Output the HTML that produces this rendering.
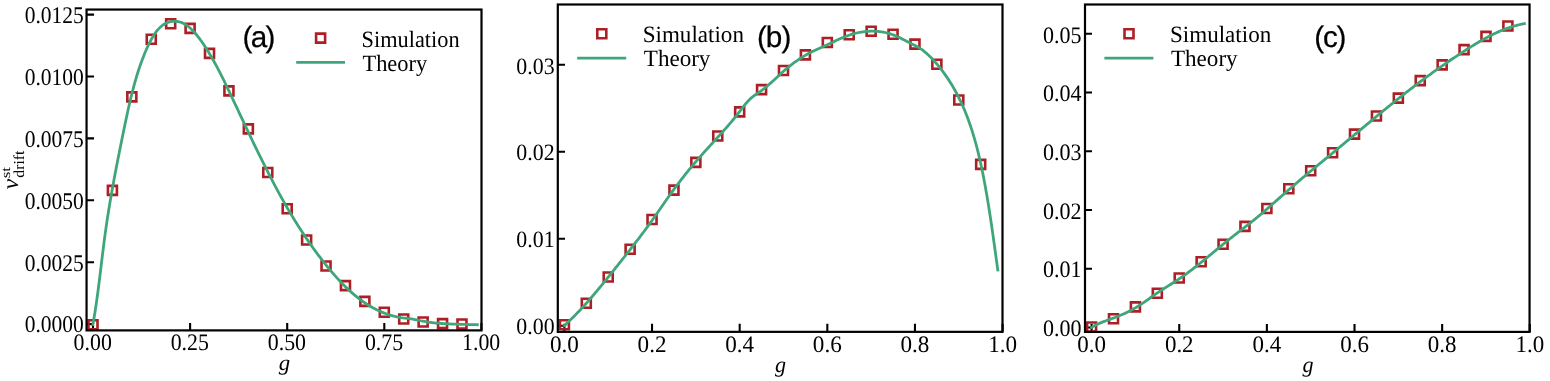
<!DOCTYPE html>
<html><head><meta charset="utf-8"><title>Drift velocity vs g</title>
<style>html,body{margin:0;padding:0;background:#fff;overflow:hidden}svg{display:block}text{text-rendering:geometricPrecision}</style>
</head><body>
<svg width="1550" height="381" viewBox="0 0 1550 381">
<rect width="1550" height="381" fill="#fff"/>
<clipPath id="clipa"><rect x="86.55" y="9.55" width="394.95" height="320.85"/></clipPath>
<path d="M93 330.4v-7.5M190.1 330.4v-7.5M287.2 330.4v-7.5M384.3 330.4v-7.5M481.4 330.4v-7.5M86.55 324.1h7.5M86.55 262.2h7.5M86.55 200.3h7.5M86.55 138.4h7.5M86.55 76.5h7.5M86.55 14.6h7.5" stroke="#000" stroke-width="2.1" fill="none"/>
<path d="M88.5 320.3h9v9h-9zM107.92 185.9h9v9h-9zM127.34 92.4h9v9h-9zM146.76 34.8h9v9h-9zM166.18 19.3h9v9h-9zM185.6 23.9h9v9h-9zM205.02 48.9h9v9h-9zM224.44 86.4h9v9h-9zM243.86 124.4h9v9h-9zM263.28 168h9v9h-9zM282.7 204.2h9v9h-9zM302.12 235.5h9v9h-9zM321.54 261.5h9v9h-9zM340.96 281.1h9v9h-9zM360.38 296.9h9v9h-9zM379.8 307.7h9v9h-9zM399.22 314.5h9v9h-9zM418.64 317.5h9v9h-9zM438.06 319.1h9v9h-9zM457.48 319.5h9v9h-9z" fill="none" stroke="#ac1f24" stroke-width="2.6" clip-path="url(#clipa)"/>
<polyline points="92.97,324.29 93.3,322.35 93.64,320.42 93.96,318.48 94.28,316.54 94.6,314.6 94.91,312.66 95.21,310.72 95.5,308.78 95.8,306.83 96.08,304.89 96.37,302.94 96.64,300.99 96.92,299.05 97.19,297.1 97.45,295.15 97.71,293.2 97.97,291.25 98.23,289.29 98.48,287.34 98.73,285.39 98.98,283.44 99.22,281.48 99.47,279.53 99.71,277.57 99.95,275.62 100.19,273.66 100.43,271.71 100.66,269.75 100.9,267.8 101.14,265.84 101.37,263.88 101.61,261.93 101.85,259.97 102.08,258.02 102.32,256.06 102.56,254.11 102.8,252.15 103.05,250.2 103.29,248.24 103.54,246.29 103.78,244.34 104.03,242.38 104.29,240.43 104.54,238.48 104.8,236.53 105.07,234.58 105.33,232.63 105.6,230.68 105.88,228.73 106.16,226.79 106.44,224.84 106.72,222.9 107.01,220.95 107.31,219.01 107.61,217.07 107.91,215.13 108.21,213.19 108.52,211.25 108.83,209.31 109.15,207.37 109.47,205.43 109.79,203.49 110.12,201.55 110.45,199.62 110.78,197.68 111.11,195.75 111.45,193.81 111.79,191.88 112.13,189.94 112.48,188.01 112.83,186.08 113.18,184.15 113.53,182.21 113.89,180.28 114.25,178.35 114.61,176.42 114.98,174.49 115.34,172.56 115.71,170.63 116.08,168.7 116.45,166.77 116.83,164.84 117.2,162.91 117.58,160.98 117.96,159.05 118.34,157.12 118.72,155.19 119.11,153.26 119.49,151.33 119.88,149.4 120.27,147.47 120.66,145.55 121.05,143.62 121.44,141.69 121.83,139.76 122.22,137.83 122.62,135.9 123.01,133.97 123.41,132.04 123.81,130.11 124.21,128.18 124.6,126.25 125,124.32 125.41,122.39 125.81,120.46 126.22,118.53 126.63,116.6 127.04,114.67 127.46,112.74 127.88,110.82 128.3,108.89 128.73,106.97 129.17,105.05 129.61,103.13 130.06,101.21 130.51,99.29 130.97,97.38 131.44,95.47 131.91,93.56 132.39,91.65 132.89,89.75 133.39,87.85 133.9,85.95 134.42,84.06 134.94,82.16 135.48,80.28 136.03,78.39 136.6,76.51 137.17,74.64 137.75,72.77 138.35,70.9 138.96,69.04 139.58,67.18 140.22,65.33 140.87,63.48 141.53,61.64 142.21,59.8 142.91,57.97 143.62,56.14 144.34,54.32 145.08,52.5 145.84,50.69 146.62,48.89 147.41,47.1 148.24,45.31 149.09,43.54 149.98,41.79 150.91,40.05 151.88,38.32 152.9,36.62 153.97,34.94 155.09,33.28 156.28,31.66 157.52,30.1 158.84,28.62 160.24,27.22 161.71,25.94 163.27,24.78 164.92,23.77 166.66,22.92 168.48,22.24 170.37,21.73 172.29,21.41 174.24,21.27 176.19,21.32 178.11,21.56 180,22 181.84,22.64 183.61,23.46 185.33,24.43 186.98,25.54 188.58,26.75 190.11,28.05 191.59,29.42 193,30.83 194.36,32.28 195.67,33.76 196.93,35.27 198.15,36.81 199.34,38.37 200.49,39.95 201.63,41.54 202.74,43.15 203.84,44.77 204.92,46.4 205.98,48.04 207.03,49.69 208.07,51.35 209.09,53.02 210.1,54.7 211.09,56.39 212.08,58.09 213.05,59.79 214.01,61.5 214.95,63.22 215.89,64.95 216.82,66.68 217.74,68.42 218.65,70.16 219.55,71.91 220.45,73.67 221.33,75.43 222.22,77.19 223.09,78.95 223.96,80.72 224.83,82.49 225.69,84.27 226.55,86.05 227.4,87.82 228.26,89.6 229.11,91.39 229.95,93.17 230.8,94.95 231.65,96.73 232.49,98.51 233.34,100.3 234.18,102.08 235.02,103.86 235.86,105.65 236.7,107.43 237.54,109.21 238.38,111 239.22,112.78 240.06,114.57 240.9,116.35 241.74,118.13 242.58,119.91 243.42,121.7 244.26,123.48 245.1,125.26 245.94,127.04 246.78,128.82 247.63,130.6 248.47,132.38 249.31,134.16 250.16,135.94 251,137.72 251.85,139.49 252.7,141.27 253.55,143.04 254.4,144.82 255.26,146.59 256.11,148.36 256.97,150.13 257.83,151.9 258.69,153.66 259.56,155.43 260.42,157.19 261.29,158.95 262.16,160.72 263.04,162.47 263.91,164.23 264.79,165.99 265.68,167.74 266.56,169.49 267.45,171.24 268.34,172.99 269.24,174.74 270.14,176.48 271.04,178.23 271.95,179.97 272.86,181.7 273.77,183.44 274.69,185.17 275.61,186.9 276.54,188.63 277.47,190.36 278.41,192.08 279.35,193.8 280.29,195.52 281.24,197.23 282.19,198.94 283.15,200.65 284.12,202.36 285.09,204.06 286.06,205.76 287.04,207.46 288.03,209.15 289.02,210.84 290.02,212.53 291.02,214.21 292.03,215.89 293.05,217.57 294.07,219.25 295.09,220.92 296.13,222.58 297.17,224.25 298.22,225.9 299.27,227.56 300.33,229.21 301.4,230.86 302.47,232.5 303.55,234.14 304.64,235.78 305.74,237.41 306.84,239.04 307.95,240.66 309.07,242.28 310.2,243.89 311.33,245.5 312.48,247.11 313.63,248.71 314.79,250.31 315.95,251.9 317.13,253.49 318.31,255.07 319.5,256.65 320.71,258.22 321.92,259.79 323.13,261.35 324.36,262.91 325.6,264.46 326.85,266.01 328.1,267.55 329.37,269.09 330.64,270.62 331.93,272.14 333.22,273.65 334.53,275.15 335.85,276.64 337.18,278.12 338.52,279.59 339.87,281.05 341.24,282.49 342.61,283.91 344,285.32 345.41,286.71 346.82,288.09 348.25,289.44 349.7,290.78 351.16,292.1 352.63,293.39 354.12,294.67 355.62,295.92 357.14,297.15 358.67,298.35 360.22,299.53 361.78,300.68 363.36,301.8 364.96,302.9 366.58,303.96 368.21,305 369.86,306.01 371.52,306.98 373.21,307.92 374.91,308.83 376.63,309.71 378.37,310.55 380.13,311.35 381.91,312.12 383.71,312.85 385.53,313.54 387.37,314.19 389.23,314.8 391.11,315.37 393.01,315.9 394.94,316.39 396.88,316.83 398.85,317.23 400.83,317.58 402.85,317.89 404.88,318.15 406.92,318.38 408.95,318.62 410.96,318.9 412.93,319.22 414.87,319.58 416.79,319.97 418.69,320.36 420.59,320.75 422.49,321.13 424.4,321.48 426.31,321.8 428.24,322.1 430.17,322.36 432.11,322.61 434.05,322.83 436,323.03 437.96,323.21 439.92,323.37 441.88,323.51 443.84,323.65 445.81,323.77 447.78,323.87 449.75,323.97 451.72,324.06 453.69,324.13 455.66,324.2 457.63,324.26 459.6,324.32 461.57,324.37 463.55,324.42 465.52,324.46 467.48,324.5 469.45,324.54 471.42,324.58 473.38,324.62 475.34,324.66 477.3,324.7" fill="none" stroke="#3fa67b" stroke-width="2.8" stroke-linejoin="round" stroke-linecap="square" clip-path="url(#clipa)"/>
<rect x="86.55" y="9.55" width="394.95" height="320.85" fill="none" stroke="#000" stroke-width="2.2"/>
<text transform="translate(92.7 349.75) scale(0.9220 1)" font-family="Liberation Serif, serif" font-size="23.70" text-anchor="middle">0.00</text>
<text transform="translate(189.8 349.75) scale(0.9220 1)" font-family="Liberation Serif, serif" font-size="23.70" text-anchor="middle">0.25</text>
<text transform="translate(286.9 349.75) scale(0.9220 1)" font-family="Liberation Serif, serif" font-size="23.70" text-anchor="middle">0.50</text>
<text transform="translate(384 349.75) scale(0.9220 1)" font-family="Liberation Serif, serif" font-size="23.70" text-anchor="middle">0.75</text>
<text transform="translate(481.1 349.75) scale(0.9220 1)" font-family="Liberation Serif, serif" font-size="23.70" text-anchor="middle">1.00</text>
<text transform="translate(83.77 332.44) scale(0.9000 1)" font-family="Liberation Serif, serif" font-size="23.90" text-anchor="end">0.0000</text>
<text transform="translate(83.77 270.54) scale(0.9000 1)" font-family="Liberation Serif, serif" font-size="23.90" text-anchor="end">0.0025</text>
<text transform="translate(83.77 208.64) scale(0.9000 1)" font-family="Liberation Serif, serif" font-size="23.90" text-anchor="end">0.0050</text>
<text transform="translate(83.77 146.74) scale(0.9000 1)" font-family="Liberation Serif, serif" font-size="23.90" text-anchor="end">0.0075</text>
<text transform="translate(83.77 84.84) scale(0.9000 1)" font-family="Liberation Serif, serif" font-size="23.90" text-anchor="end">0.0100</text>
<text transform="translate(83.77 22.94) scale(0.9000 1)" font-family="Liberation Serif, serif" font-size="23.90" text-anchor="end">0.0125</text>
<path d="M316.1 33.6h9v9h-9z" fill="none" stroke="#ac1f24" stroke-width="2.6"/>
<path d="M296.2 62.4H345" stroke="#3fa67b" stroke-width="2.8"/>
<text transform="translate(361.6 46.8) scale(0.9580 1)" font-family="Liberation Serif, serif" font-size="23.30">Simulation</text>
<text transform="translate(362.45 70.5) scale(0.9630 1)" font-family="Liberation Serif, serif" font-size="23.30">Theory</text>
<text transform="translate(242.5 46.5)" font-family="Liberation Sans, sans-serif" font-size="29.70" stroke="#000" stroke-width="0.25" letter-spacing="-1.67">(a)</text>
<text transform="translate(284.5 369.8) scale(1.0460 1)" font-family="Liberation Serif, serif" font-size="21.80" font-style="italic" text-anchor="middle">g</text>
<clipPath id="clipb"><rect x="557.8" y="4.5" width="444.7" height="327.35"/></clipPath>
<path d="M564.4 331.85v-8M652.04 331.85v-8M739.68 331.85v-8M827.32 331.85v-8M914.96 331.85v-8M1002.6 331.85v-8M557.8 325.8h7.2M557.8 238.8h7.2M557.8 151.8h7.2M557.8 64.8h7.2" stroke="#000" stroke-width="2.1" fill="none"/>
<path d="M559.9 320.3h9v9h-9zM581.81 298.7h9v9h-9zM603.72 272.5h9v9h-9zM625.63 244.7h9v9h-9zM647.54 215h9v9h-9zM669.45 185.6h9v9h-9zM691.36 157.9h9v9h-9zM713.27 131.5h9v9h-9zM735.18 107.4h9v9h-9zM757.09 85.1h9v9h-9zM779 66h9v9h-9zM800.91 50.4h9v9h-9zM822.82 38h9v9h-9zM844.73 30.2h9v9h-9zM866.64 26.8h9v9h-9zM888.55 29.8h9v9h-9zM910.46 39.6h9v9h-9zM932.37 59.8h9v9h-9zM954.28 95.5h9v9h-9zM976.19 159.9h9v9h-9z" fill="none" stroke="#ac1f24" stroke-width="2.6" clip-path="url(#clipb)"/>
<polyline points="564.38,325.59 565.73,324.35 567.07,323.1 568.4,321.84 569.72,320.57 571.03,319.3 572.34,318.01 573.63,316.72 574.91,315.43 576.19,314.12 577.46,312.81 578.72,311.49 579.97,310.17 581.21,308.84 582.45,307.5 583.68,306.16 584.9,304.81 586.12,303.45 587.33,302.09 588.54,300.73 589.74,299.36 590.93,297.99 592.12,296.61 593.3,295.22 594.48,293.84 595.66,292.45 596.83,291.05 597.99,289.65 599.16,288.25 600.32,286.85 601.47,285.44 602.63,284.03 603.78,282.62 604.93,281.2 606.07,279.79 607.22,278.37 608.36,276.95 609.5,275.53 610.64,274.11 611.78,272.69 612.92,271.26 614.06,269.84 615.2,268.42 616.34,266.99 617.48,265.57 618.61,264.14 619.75,262.72 620.89,261.29 622.02,259.86 623.16,258.43 624.29,257 625.42,255.57 626.55,254.14 627.68,252.71 628.81,251.27 629.93,249.84 631.05,248.4 632.17,246.96 633.29,245.52 634.41,244.08 635.52,242.64 636.64,241.19 637.74,239.74 638.85,238.29 639.95,236.84 641.05,235.39 642.15,233.93 643.24,232.47 644.33,231.01 645.42,229.55 646.5,228.08 647.58,226.61 648.66,225.14 649.73,223.66 650.79,222.18 651.86,220.7 652.91,219.22 653.97,217.73 655.02,216.24 656.07,214.75 657.11,213.26 658.15,211.76 659.19,210.27 660.23,208.77 661.27,207.27 662.31,205.78 663.35,204.28 664.39,202.78 665.43,201.29 666.48,199.79 667.52,198.3 668.57,196.81 669.62,195.33 670.68,193.84 671.74,192.36 672.81,190.88 673.89,189.41 674.96,187.94 676.05,186.48 677.14,185.01 678.24,183.56 679.34,182.11 680.45,180.66 681.56,179.21 682.68,177.77 683.81,176.34 684.94,174.91 686.07,173.48 687.22,172.06 688.36,170.64 689.52,169.23 690.67,167.82 691.84,166.42 693.01,165.02 694.18,163.63 695.36,162.24 696.55,160.85 697.74,159.47 698.93,158.1 700.13,156.72 701.34,155.36 702.55,154 703.76,152.64 704.98,151.28 706.2,149.93 707.42,148.58 708.65,147.23 709.88,145.89 711.11,144.54 712.33,143.2 713.56,141.85 714.79,140.51 716.02,139.16 717.25,137.82 718.48,136.47 719.7,135.12 720.92,133.77 722.14,132.41 723.36,131.06 724.57,129.69 725.77,128.33 726.98,126.96 728.17,125.58 729.36,124.2 730.55,122.81 731.72,121.41 732.89,120.01 734.06,118.6 735.21,117.19 736.36,115.76 737.49,114.33 738.62,112.89 739.74,111.43 740.84,109.97 741.95,108.51 743.06,107.06 744.18,105.62 745.33,104.2 746.49,102.82 747.69,101.46 748.92,100.15 750.21,98.9 751.55,97.71 752.95,96.58 754.4,95.49 755.88,94.44 757.38,93.41 758.88,92.38 760.38,91.34 761.86,90.28 763.32,89.19 764.76,88.07 766.17,86.92 767.56,85.75 768.94,84.56 770.31,83.36 771.66,82.14 773.01,80.91 774.35,79.67 775.69,78.42 777.03,77.18 778.37,75.93 779.71,74.69 781.06,73.45 782.42,72.23 783.78,71.01 785.17,69.81 786.56,68.63 787.98,67.46 789.4,66.31 790.84,65.18 792.29,64.06 793.75,62.97 795.23,61.89 796.72,60.83 798.23,59.8 799.75,58.78 801.28,57.79 802.82,56.83 804.38,55.88 805.95,54.96 807.54,54.07 809.14,53.2 810.75,52.36 812.37,51.54 814.01,50.75 815.65,49.97 817.31,49.21 818.96,48.45 820.63,47.71 822.29,46.97 823.96,46.22 825.62,45.48 827.29,44.72 828.95,43.95 830.61,43.18 832.26,42.4 833.92,41.63 835.58,40.85 837.24,40.09 838.9,39.33 840.57,38.59 842.24,37.87 843.93,37.17 845.62,36.5 847.32,35.85 849.03,35.24 850.75,34.66 852.49,34.12 854.24,33.62 856,33.17 857.77,32.75 859.56,32.38 861.35,32.06 863.16,31.79 864.98,31.57 866.81,31.39 868.64,31.27 870.48,31.2 872.31,31.18 874.15,31.21 875.98,31.29 877.81,31.42 879.64,31.61 881.46,31.85 883.26,32.15 885.06,32.5 886.84,32.91 888.61,33.37 890.35,33.89 892.08,34.47 893.79,35.1 895.48,35.79 897.15,36.53 898.81,37.3 900.45,38.1 902.09,38.92 903.72,39.76 905.35,40.6 906.98,41.44 908.61,42.28 910.25,43.09 911.89,43.89 913.52,44.68 915.13,45.5 916.7,46.34 918.24,47.24 919.76,48.18 921.24,49.18 922.7,50.23 924.14,51.34 925.55,52.49 926.93,53.68 928.3,54.92 929.63,56.2 930.95,57.5 932.24,58.84 933.51,60.2 934.76,61.58 935.99,62.98 937.2,64.4 938.38,65.82 939.55,67.26 940.7,68.71 941.83,70.17 942.93,71.64 944.02,73.12 945.09,74.61 946.15,76.11 947.18,77.62 948.19,79.14 949.19,80.67 950.17,82.21 951.13,83.75 952.08,85.31 953,86.87 953.91,88.45 954.81,90.03 955.68,91.62 956.55,93.22 957.39,94.82 958.22,96.44 959.03,98.06 959.83,99.69 960.62,101.33 961.39,102.97 962.14,104.62 962.88,106.28 963.61,107.94 964.32,109.61 965.02,111.29 965.7,112.97 966.37,114.66 967.03,116.36 967.68,118.06 968.31,119.77 968.93,121.48 969.54,123.19 970.14,124.92 970.73,126.64 971.3,128.37 971.86,130.11 972.42,131.85 972.96,133.6 973.49,135.35 974.01,137.1 974.52,138.85 975.02,140.62 975.52,142.38 976,144.15 976.47,145.92 976.94,147.69 977.39,149.46 977.84,151.24 978.28,153.02 978.71,154.81 979.14,156.59 979.55,158.38 979.96,160.17 980.36,161.96 980.76,163.75 981.15,165.54 981.53,167.34 981.91,169.13 982.28,170.93 982.64,172.72 983,174.52 983.36,176.32 983.71,178.12 984.05,179.91 984.39,181.71 984.73,183.51 985.06,185.31 985.39,187.1 985.71,188.9 986.03,190.7 986.34,192.5 986.66,194.29 986.96,196.09 987.27,197.89 987.57,199.68 987.87,201.48 988.16,203.28 988.45,205.07 988.74,206.87 989.03,208.67 989.31,210.47 989.59,212.27 989.87,214.06 990.14,215.86 990.42,217.66 990.69,219.46 990.96,221.26 991.22,223.06 991.49,224.86 991.75,226.66 992.01,228.46 992.27,230.26 992.53,232.06 992.79,233.86 993.04,235.66 993.3,237.47 993.55,239.27 993.8,241.07 994.06,242.88 994.31,244.68 994.56,246.49 994.81,248.29 995.06,250.1 995.31,251.91 995.55,253.71 995.8,255.52 996.05,257.33 996.3,259.14 996.55,260.95 996.8,262.76 997.05,264.57 997.3,266.39 997.55,268.2 997.81,270.02" fill="none" stroke="#3fa67b" stroke-width="2.8" stroke-linejoin="round" stroke-linecap="square" clip-path="url(#clipb)"/>
<rect x="557.8" y="4.5" width="444.7" height="327.35" fill="none" stroke="#000" stroke-width="2.2"/>
<text transform="translate(564.4 351.74) scale(0.9770 1)" font-family="Liberation Serif, serif" font-size="23.70" text-anchor="middle">0.0</text>
<text transform="translate(652.04 351.74) scale(0.9770 1)" font-family="Liberation Serif, serif" font-size="23.70" text-anchor="middle">0.2</text>
<text transform="translate(739.68 351.74) scale(0.9770 1)" font-family="Liberation Serif, serif" font-size="23.70" text-anchor="middle">0.4</text>
<text transform="translate(827.32 351.74) scale(0.9770 1)" font-family="Liberation Serif, serif" font-size="23.70" text-anchor="middle">0.6</text>
<text transform="translate(914.96 351.74) scale(0.9770 1)" font-family="Liberation Serif, serif" font-size="23.70" text-anchor="middle">0.8</text>
<text transform="translate(1002.6 351.74) scale(0.9770 1)" font-family="Liberation Serif, serif" font-size="23.70" text-anchor="middle">1.0</text>
<text transform="translate(554.6 333.95) scale(0.9350 1)" font-family="Liberation Serif, serif" font-size="23.40" text-anchor="end">0.00</text>
<text transform="translate(554.6 246.85) scale(0.9350 1)" font-family="Liberation Serif, serif" font-size="23.40" text-anchor="end">0.01</text>
<text transform="translate(554.6 160.45) scale(0.9350 1)" font-family="Liberation Serif, serif" font-size="23.40" text-anchor="end">0.02</text>
<text transform="translate(554.6 73.85) scale(0.9350 1)" font-family="Liberation Serif, serif" font-size="23.40" text-anchor="end">0.03</text>
<path d="M597.3 29.3h9v9h-9z" fill="none" stroke="#ac1f24" stroke-width="2.6"/>
<path d="M577.2 58.1H626.2" stroke="#3fa67b" stroke-width="2.8"/>
<text transform="translate(642.7 41.8) scale(0.9900 1)" font-family="Liberation Serif, serif" font-size="23.30">Simulation</text>
<text transform="translate(643.8 66) scale(0.9900 1)" font-family="Liberation Serif, serif" font-size="23.30">Theory</text>
<text transform="translate(756.9 46.9)" font-family="Liberation Sans, sans-serif" font-size="29.70" stroke="#000" stroke-width="0.25" letter-spacing="-0.92">(b)</text>
<text transform="translate(780.4 371.5) scale(0.9950 1)" font-family="Liberation Serif, serif" font-size="22.20" font-style="italic" text-anchor="middle">g</text>
<clipPath id="clipc"><rect x="1085" y="4.5" width="444.55" height="327.4"/></clipPath>
<path d="M1091.6 331.9v-7.9M1179.24 331.9v-7.9M1266.88 331.9v-7.9M1354.52 331.9v-7.9M1442.16 331.9v-7.9M1529.8 331.9v-7.9M1085 327.55h7M1085 268.8h7M1085 210.05h7M1085 151.3h7M1085 92.55h7M1085 33.8h7" stroke="#000" stroke-width="2.1" fill="none"/>
<path d="M1087.1 322.5h9v9h-9zM1109.01 314.2h9v9h-9zM1130.92 302.4h9v9h-9zM1152.83 288.8h9v9h-9zM1174.74 273.5h9v9h-9zM1196.65 257.2h9v9h-9zM1218.56 239.8h9v9h-9zM1240.47 221.9h9v9h-9zM1262.38 204h9v9h-9zM1284.29 184.3h9v9h-9zM1306.2 166.3h9v9h-9zM1328.11 148.2h9v9h-9zM1350.02 129.6h9v9h-9zM1371.93 111.5h9v9h-9zM1393.84 93.6h9v9h-9zM1415.75 76.1h9v9h-9zM1437.66 60.4h9v9h-9zM1459.57 45.1h9v9h-9zM1481.48 31.9h9v9h-9zM1503.39 21.5h9v9h-9z" fill="none" stroke="#ac1f24" stroke-width="2.6" clip-path="url(#clipc)"/>
<polyline points="1091.57,327.43 1092.71,326.73 1093.86,326.06 1095.03,325.43 1096.22,324.82 1097.41,324.24 1098.62,323.68 1099.84,323.15 1101.07,322.64 1102.3,322.14 1103.55,321.66 1104.8,321.19 1106.05,320.72 1107.31,320.27 1108.57,319.82 1109.83,319.37 1111.09,318.91 1112.35,318.46 1113.61,318 1114.86,317.53 1116.11,317.05 1117.35,316.57 1118.59,316.07 1119.83,315.56 1121.06,315.05 1122.28,314.52 1123.5,313.98 1124.72,313.43 1125.92,312.87 1127.12,312.3 1128.32,311.71 1129.5,311.11 1130.68,310.5 1131.86,309.87 1133.02,309.24 1134.18,308.58 1135.32,307.91 1136.46,307.23 1137.6,306.54 1138.72,305.83 1139.84,305.11 1140.95,304.37 1142.06,303.63 1143.16,302.88 1144.26,302.13 1145.35,301.37 1146.44,300.6 1147.53,299.83 1148.62,299.05 1149.71,298.28 1150.8,297.5 1151.89,296.73 1152.98,295.96 1154.07,295.19 1155.17,294.42 1156.27,293.66 1157.38,292.91 1158.49,292.16 1159.6,291.42 1160.72,290.69 1161.84,289.96 1162.96,289.23 1164.08,288.51 1165.21,287.79 1166.34,287.08 1167.47,286.36 1168.6,285.65 1169.73,284.94 1170.86,284.22 1171.98,283.51 1173.11,282.79 1174.23,282.07 1175.35,281.34 1176.47,280.62 1177.58,279.88 1178.69,279.15 1179.8,278.4 1180.9,277.65 1182,276.89 1183.09,276.13 1184.18,275.36 1185.26,274.59 1186.34,273.81 1187.41,273.02 1188.48,272.23 1189.55,271.44 1190.62,270.64 1191.68,269.83 1192.74,269.02 1193.79,268.21 1194.84,267.39 1195.89,266.57 1196.94,265.75 1197.99,264.92 1199.03,264.09 1200.07,263.26 1201.11,262.42 1202.14,261.59 1203.18,260.75 1204.21,259.9 1205.25,259.06 1206.28,258.21 1207.31,257.36 1208.34,256.52 1209.36,255.67 1210.39,254.81 1211.42,253.96 1212.45,253.11 1213.47,252.26 1214.5,251.4 1215.53,250.55 1216.55,249.7 1217.58,248.85 1218.61,248 1219.64,247.15 1220.67,246.3 1221.7,245.45 1222.73,244.6 1223.76,243.76 1224.8,242.91 1225.84,242.07 1226.87,241.23 1227.91,240.4 1228.96,239.56 1230,238.73 1231.05,237.9 1232.1,237.08 1233.14,236.25 1234.19,235.43 1235.25,234.61 1236.3,233.79 1237.35,232.97 1238.41,232.15 1239.46,231.33 1240.51,230.51 1241.57,229.69 1242.62,228.88 1243.68,228.06 1244.73,227.24 1245.78,226.42 1246.83,225.6 1247.88,224.78 1248.93,223.95 1249.98,223.13 1251.03,222.3 1252.07,221.47 1253.12,220.64 1254.16,219.81 1255.19,218.97 1256.23,218.14 1257.26,217.29 1258.29,216.45 1259.32,215.6 1260.35,214.75 1261.37,213.89 1262.38,213.03 1263.4,212.16 1264.41,211.29 1265.41,210.42 1266.41,209.54 1267.41,208.65 1268.4,207.76 1269.4,206.87 1270.39,205.98 1271.38,205.09 1272.38,204.2 1273.37,203.31 1274.37,202.43 1275.37,201.54 1276.36,200.66 1277.36,199.77 1278.36,198.89 1279.36,198 1280.36,197.12 1281.36,196.24 1282.36,195.36 1283.36,194.48 1284.37,193.6 1285.37,192.72 1286.37,191.84 1287.38,190.97 1288.39,190.09 1289.39,189.22 1290.4,188.34 1291.41,187.47 1292.42,186.6 1293.43,185.73 1294.44,184.86 1295.45,183.99 1296.46,183.12 1297.48,182.26 1298.49,181.39 1299.51,180.52 1300.52,179.66 1301.54,178.8 1302.56,177.94 1303.57,177.07 1304.59,176.22 1305.61,175.36 1306.63,174.5 1307.66,173.64 1308.68,172.79 1309.7,171.93 1310.73,171.08 1311.75,170.23 1312.78,169.37 1313.8,168.52 1314.83,167.67 1315.86,166.83 1316.89,165.98 1317.92,165.13 1318.95,164.28 1319.98,163.43 1321.01,162.59 1322.04,161.74 1323.07,160.89 1324.1,160.05 1325.13,159.2 1326.16,158.35 1327.19,157.51 1328.22,156.66 1329.25,155.81 1330.27,154.96 1331.3,154.11 1332.33,153.26 1333.36,152.41 1334.39,151.56 1335.41,150.7 1336.44,149.85 1337.47,149 1338.49,148.14 1339.52,147.29 1340.54,146.43 1341.57,145.58 1342.59,144.72 1343.62,143.87 1344.64,143.01 1345.66,142.16 1346.69,141.3 1347.71,140.44 1348.74,139.59 1349.76,138.73 1350.78,137.87 1351.81,137.01 1352.83,136.16 1353.85,135.3 1354.88,134.44 1355.9,133.58 1356.93,132.73 1357.95,131.87 1358.97,131.01 1360,130.15 1361.02,129.3 1362.05,128.44 1363.07,127.58 1364.09,126.73 1365.12,125.87 1366.14,125.02 1367.17,124.16 1368.2,123.31 1369.22,122.45 1370.25,121.6 1371.28,120.74 1372.3,119.89 1373.33,119.04 1374.36,118.18 1375.39,117.33 1376.41,116.48 1377.44,115.63 1378.47,114.78 1379.5,113.93 1380.53,113.08 1381.56,112.24 1382.6,111.39 1383.63,110.54 1384.66,109.7 1385.7,108.85 1386.73,108.01 1387.76,107.17 1388.8,106.33 1389.84,105.49 1390.87,104.65 1391.91,103.81 1392.95,102.97 1393.99,102.13 1395.03,101.3 1396.07,100.46 1397.11,99.63 1398.15,98.8 1399.2,97.97 1400.24,97.14 1401.29,96.31 1402.33,95.49 1403.38,94.66 1404.43,93.84 1405.48,93.01 1406.53,92.19 1407.58,91.37 1408.63,90.56 1409.69,89.74 1410.74,88.92 1411.8,88.11 1412.85,87.3 1413.91,86.49 1414.97,85.68 1416.03,84.87 1417.09,84.07 1418.16,83.27 1419.22,82.47 1420.29,81.67 1421.35,80.87 1422.42,80.07 1423.49,79.28 1424.56,78.49 1425.64,77.7 1426.71,76.91 1427.78,76.12 1428.86,75.34 1429.94,74.55 1431.02,73.77 1432.1,72.99 1433.18,72.22 1434.26,71.44 1435.35,70.67 1436.43,69.89 1437.52,69.12 1438.61,68.36 1439.7,67.59 1440.79,66.82 1441.89,66.06 1442.98,65.3 1444.08,64.54 1445.17,63.78 1446.27,63.03 1447.37,62.27 1448.48,61.52 1449.58,60.77 1450.68,60.02 1451.79,59.28 1452.9,58.53 1454.01,57.79 1455.12,57.05 1456.23,56.31 1457.35,55.57 1458.46,54.83 1459.58,54.1 1460.7,53.36 1461.82,52.63 1462.94,51.9 1464.06,51.18 1465.19,50.45 1466.32,49.73 1467.44,49.01 1468.57,48.29 1469.71,47.57 1470.84,46.86 1471.98,46.15 1473.12,45.45 1474.26,44.75 1475.4,44.05 1476.55,43.36 1477.7,42.68 1478.85,42 1480.01,41.32 1481.17,40.66 1482.33,39.99 1483.49,39.34 1484.66,38.69 1485.83,38.05 1487,37.42 1488.18,36.8 1489.37,36.18 1490.55,35.58 1491.74,34.98 1492.94,34.39 1494.13,33.81 1495.34,33.24 1496.54,32.69 1497.75,32.14 1498.97,31.6 1500.19,31.08 1501.42,30.56 1502.65,30.06 1503.88,29.57 1505.12,29.09 1506.37,28.63 1507.62,28.18 1508.87,27.74 1510.13,27.32 1511.4,26.91 1512.67,26.51 1513.95,26.13 1515.24,25.77 1516.53,25.42 1517.82,25.08 1519.12,24.76 1520.43,24.46 1521.75,24.18 1523.07,23.91 1524.4,23.66" fill="none" stroke="#3fa67b" stroke-width="2.8" stroke-linejoin="round" stroke-linecap="square" clip-path="url(#clipc)"/>
<rect x="1085" y="4.5" width="444.55" height="327.4" fill="none" stroke="#000" stroke-width="2.2"/>
<text transform="translate(1091.6 351.74) scale(0.9700 1)" font-family="Liberation Serif, serif" font-size="23.70" text-anchor="middle">0.0</text>
<text transform="translate(1179.24 351.74) scale(0.9700 1)" font-family="Liberation Serif, serif" font-size="23.70" text-anchor="middle">0.2</text>
<text transform="translate(1266.88 351.74) scale(0.9700 1)" font-family="Liberation Serif, serif" font-size="23.70" text-anchor="middle">0.4</text>
<text transform="translate(1354.52 351.74) scale(0.9700 1)" font-family="Liberation Serif, serif" font-size="23.70" text-anchor="middle">0.6</text>
<text transform="translate(1442.16 351.74) scale(0.9700 1)" font-family="Liberation Serif, serif" font-size="23.70" text-anchor="middle">0.8</text>
<text transform="translate(1529.8 351.74) scale(0.9700 1)" font-family="Liberation Serif, serif" font-size="23.70" text-anchor="middle">1.0</text>
<text transform="translate(1081.5 335.5) scale(0.9340 1)" font-family="Liberation Serif, serif" font-size="23.60" text-anchor="end">0.00</text>
<text transform="translate(1081.5 277.15) scale(0.9340 1)" font-family="Liberation Serif, serif" font-size="23.60" text-anchor="end">0.01</text>
<text transform="translate(1081.5 218.8) scale(0.9340 1)" font-family="Liberation Serif, serif" font-size="23.60" text-anchor="end">0.02</text>
<text transform="translate(1081.5 160.25) scale(0.9340 1)" font-family="Liberation Serif, serif" font-size="23.60" text-anchor="end">0.03</text>
<text transform="translate(1081.5 100.9) scale(0.9340 1)" font-family="Liberation Serif, serif" font-size="23.60" text-anchor="end">0.04</text>
<text transform="translate(1081.5 42.95) scale(0.9340 1)" font-family="Liberation Serif, serif" font-size="23.60" text-anchor="end">0.05</text>
<path d="M1124.5 29.3h9v9h-9z" fill="none" stroke="#ac1f24" stroke-width="2.6"/>
<path d="M1104.4 58.1H1153.4" stroke="#3fa67b" stroke-width="2.8"/>
<text transform="translate(1170 41.8) scale(0.9900 1)" font-family="Liberation Serif, serif" font-size="23.30">Simulation</text>
<text transform="translate(1171 66) scale(0.9900 1)" font-family="Liberation Serif, serif" font-size="23.30">Theory</text>
<text transform="translate(1314.3 46.9)" font-family="Liberation Sans, sans-serif" font-size="29.70" stroke="#000" stroke-width="0.25" letter-spacing="-1.3">(c)</text>
<text transform="translate(1307.9 371.5) scale(0.9950 1)" font-family="Liberation Serif, serif" font-size="22.20" font-style="italic" text-anchor="middle">g</text>
<text transform="translate(18.47 189.35) rotate(-90) scale(1.0100 1)" font-family="Liberation Serif, serif" font-size="23.20" font-style="italic">v</text>
<text transform="translate(9.57 178.3) rotate(-90) scale(1.3000 1)" font-family="Liberation Serif, serif" font-size="13.00">st</text>
<text transform="translate(24.15 177.76) rotate(-90) scale(1.0400 1)" font-family="Liberation Serif, serif" font-size="15.20">drift</text>
</svg>
</body></html>
